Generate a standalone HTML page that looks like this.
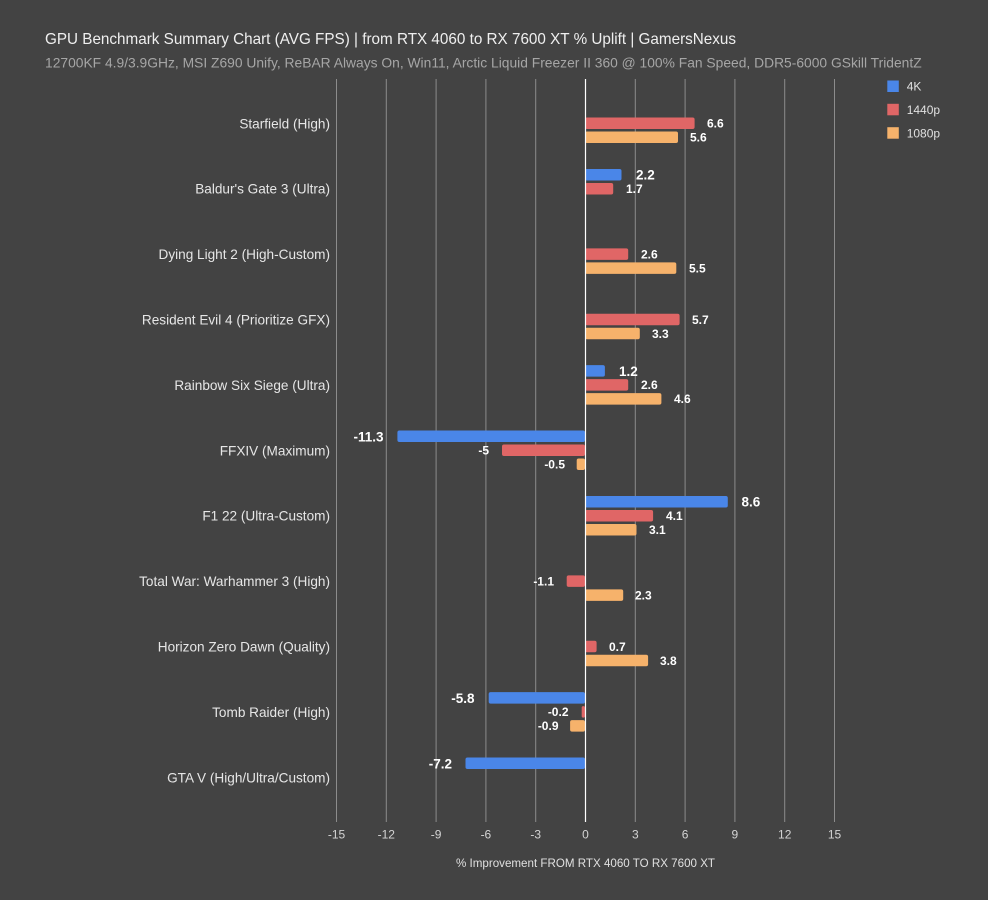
<!DOCTYPE html>
<html><head><meta charset="utf-8"><style>
html,body{margin:0;padding:0;background:#434343;}
svg{display:block;}
text{font-family:"Liberation Sans",Arial,sans-serif;}
</style></head><body>
<svg width="988" height="900" viewBox="0 0 988 900" xmlns="http://www.w3.org/2000/svg">
<rect x="0" y="0" width="988" height="900" fill="#434343"/>
<text x="45" y="44" font-size="15.25" fill="#efefef">GPU Benchmark Summary Chart (AVG FPS) | from RTX 4060 to RX 7600 XT % Uplift | GamersNexus</text>
<text x="45" y="67.3" font-size="13.83" fill="#a6a6a6">12700KF 4.9/3.9GHz, MSI Z690 Unify, ReBAR Always On, Win11, Arctic Liquid Freezer II 360 @ 100% Fan Speed, DDR5-6000 GSkill TridentZ</text>

<!-- gridlines -->
<g stroke="#8c8c8c" stroke-width="1">
<line x1="336.5" y1="79" x2="336.5" y2="822"/>
<line x1="386.3" y1="79" x2="386.3" y2="822"/>
<line x1="436.1" y1="79" x2="436.1" y2="822"/>
<line x1="485.9" y1="79" x2="485.9" y2="822"/>
<line x1="535.7" y1="79" x2="535.7" y2="822"/>
<line x1="635.3" y1="79" x2="635.3" y2="822"/>
<line x1="685.1" y1="79" x2="685.1" y2="822"/>
<line x1="734.9" y1="79" x2="734.9" y2="822"/>
<line x1="784.7" y1="79" x2="784.7" y2="822"/>
<line x1="834.5" y1="79" x2="834.5" y2="822"/>
</g>

<!-- tick labels -->
<g font-size="12" fill="#d4d4d4" text-anchor="middle">
<text x="336.5" y="838.5">-15</text>
<text x="386.3" y="838.5">-12</text>
<text x="436.1" y="838.5">-9</text>
<text x="485.9" y="838.5">-6</text>
<text x="535.7" y="838.5">-3</text>
<text x="585.5" y="838.5">0</text>
<text x="635.3" y="838.5">3</text>
<text x="685.1" y="838.5">6</text>
<text x="734.9" y="838.5">9</text>
<text x="784.7" y="838.5">12</text>
<text x="834.5" y="838.5">15</text>
</g>
<text x="585.5" y="867" font-size="11.6" fill="#e0e0e0" text-anchor="middle">% Improvement FROM RTX 4060 TO RX 7600 XT</text>

<!-- category labels -->
<g font-size="13.6" fill="#e6e6e6" text-anchor="end">
<text x="330" y="128.3">Starfield (High)</text>
<text x="330" y="193.7">Baldur's Gate 3 (Ultra)</text>
<text x="330" y="259.1">Dying Light 2 (High-Custom)</text>
<text x="330" y="324.5">Resident Evil 4 (Prioritize GFX)</text>
<text x="330" y="389.9">Rainbow Six Siege (Ultra)</text>
<text x="330" y="455.3">FFXIV (Maximum)</text>
<text x="330" y="520.7">F1 22 (Ultra-Custom)</text>
<text x="330" y="586.1">Total War: Warhammer 3 (High)</text>
<text x="330" y="651.5">Horizon Zero Dawn (Quality)</text>
<text x="330" y="716.9">Tomb Raider (High)</text>
<text x="330" y="782.3">GTA V (High/Ultra/Custom)</text>
</g>

<!-- bars -->
<g>
<rect x="585" y="117.55" width="109.6" height="11.5" rx="2" fill="#e06666"/>
<rect x="585" y="131.55" width="93" height="11.5" rx="2" fill="#f6b26b"/>
<rect x="585" y="168.95" width="36.5" height="11.5" rx="2" fill="#4a86e8"/>
<rect x="585" y="182.95" width="28.2" height="11.5" rx="2" fill="#e06666"/>
<rect x="585" y="248.35" width="43.2" height="11.5" rx="2" fill="#e06666"/>
<rect x="585" y="262.35" width="91.3" height="11.5" rx="2" fill="#f6b26b"/>
<rect x="585" y="313.75" width="94.6" height="11.5" rx="2" fill="#e06666"/>
<rect x="585" y="327.75" width="54.8" height="11.5" rx="2" fill="#f6b26b"/>
<rect x="585" y="365.15" width="19.9" height="11.5" rx="2" fill="#4a86e8"/>
<rect x="585" y="379.15" width="43.2" height="11.5" rx="2" fill="#e06666"/>
<rect x="585" y="393.15" width="76.4" height="11.5" rx="2" fill="#f6b26b"/>
<rect x="397.4" y="430.55" width="187.6" height="11.5" rx="2" fill="#4a86e8"/>
<rect x="502" y="444.55" width="83" height="11.5" rx="2" fill="#e06666"/>
<rect x="576.7" y="458.55" width="8.3" height="11.5" rx="2" fill="#f6b26b"/>
<rect x="585" y="495.95" width="142.8" height="11.5" rx="2" fill="#4a86e8"/>
<rect x="585" y="509.95" width="68.1" height="11.5" rx="2" fill="#e06666"/>
<rect x="585" y="523.95" width="51.5" height="11.5" rx="2" fill="#f6b26b"/>
<rect x="566.7" y="575.35" width="18.3" height="11.5" rx="2" fill="#e06666"/>
<rect x="585" y="589.35" width="38.2" height="11.5" rx="2" fill="#f6b26b"/>
<rect x="585" y="640.75" width="11.6" height="11.5" rx="2" fill="#e06666"/>
<rect x="585" y="654.75" width="63.1" height="11.5" rx="2" fill="#f6b26b"/>
<rect x="488.7" y="692.15" width="96.3" height="11.5" rx="2" fill="#4a86e8"/>
<rect x="581.7" y="706.15" width="3.3" height="11.5" rx="1.5" fill="#e06666"/>
<rect x="570.1" y="720.15" width="14.9" height="11.5" rx="2" fill="#f6b26b"/>
<rect x="465.5" y="757.55" width="119.5" height="11.5" rx="2" fill="#4a86e8"/>
</g>

<!-- zero line -->
<line x1="585.5" y1="79" x2="585.5" y2="822" stroke="#ffffff" stroke-width="1.2"/>

<!-- value labels -->
<g font-weight="bold" fill="#ffffff">
<g font-size="12">
<text x="707" y="127.6">6.6</text>
<text x="690" y="141.6">5.6</text>
<text x="626" y="193">1.7</text>
<text x="641" y="258.4">2.6</text>
<text x="689" y="272.4">5.5</text>
<text x="692" y="323.8">5.7</text>
<text x="652" y="337.8">3.3</text>
<text x="641" y="389.2">2.6</text>
<text x="674" y="403.2">4.6</text>
<text x="489" y="454.6" text-anchor="end">-5</text>
<text x="565" y="468.6" text-anchor="end">-0.5</text>
<text x="666" y="520">4.1</text>
<text x="649" y="534">3.1</text>
<text x="554" y="585.4" text-anchor="end">-1.1</text>
<text x="635" y="599.4">2.3</text>
<text x="609" y="650.8">0.7</text>
<text x="660" y="664.8">3.8</text>
<text x="568.5" y="716.2" text-anchor="end">-0.2</text>
<text x="558.5" y="730.2" text-anchor="end">-0.9</text>
</g>
<g font-size="13.5">
<text x="636" y="179.5">2.2</text>
<text x="619" y="375.9">1.2</text>
<text x="383.5" y="441.3" text-anchor="end">-11.3</text>
<text x="741.5" y="506.7">8.6</text>
<text x="474.5" y="702.9" text-anchor="end">-5.8</text>
<text x="452" y="768.3" text-anchor="end">-7.2</text>
</g>
</g>

<!-- legend -->
<rect x="887.3" y="80.5" width="11.5" height="11.5" fill="#4a86e8"/>
<rect x="887.3" y="103.8" width="11.5" height="11.5" fill="#e06666"/>
<rect x="887.3" y="127.2" width="11.5" height="11.5" fill="#f6b26b"/>
<g font-size="12" fill="#e0e0e0">
<text x="906.7" y="90.6">4K</text>
<text x="906.7" y="113.9">1440p</text>
<text x="906.7" y="137.3">1080p</text>
</g>
</svg>
</body></html>
